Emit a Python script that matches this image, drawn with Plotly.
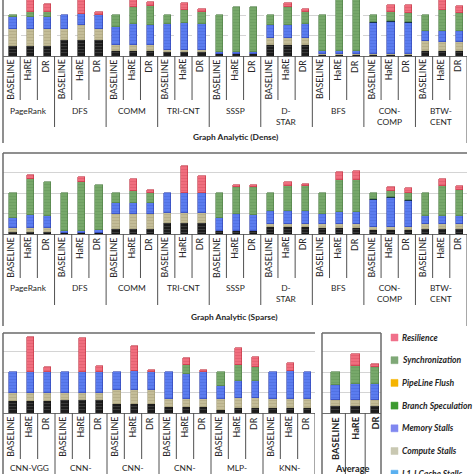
import plotly.graph_objects as go

W = H = 474

# ---------------- data ----------------
series_names = ["Resilience", "Synchronization", "PipeLine Flush", "Branch Speculation",
                "Memory Stalls", "Compute Stalls", "L1-I Cache Stalls"]
legend_colors = ["#f0708a", "#7fa877", "#f5b400", "#3c9a30", "#8088f0", "#c9c8b2", "#5ab0f0"]

config_labels = ["BASELINE", "HaRE", "DR"]
graph_groups = ["PageRank", "DFS", "COMM", "TRI-CNT", "SSSP", "D-<br>STAR", "BFS",
                "CON-<br>COMP", "BTW-<br>CENT"]
ml_groups = ["CNN-VGG", "CNN-", "CNN-", "CNN-", "MLP-", "KNN-"]
avg_group = "Average"
title_dense = "Graph Analytic (Dense)"
title_sparse = "Graph Analytic (Sparse)"

# Graph analytic (dense): 9 groups x (BASELINE, HaRE, DR)
dense_base = [.24, .24, .24, .39, .39, .39, .13, .13, .13, .10, .10, .10, .04, .04, .04,
              .27, .27, .27, .03, .03, .03, .03, .03, .03, .13, .13, .13]
dense_compute = [.42, .42, .42, .28, .36, .28, .14, .14, .14, .05, .05, .05, .02, .02, .02,
                 .16, .16, .16, .02, .02, .02, .02, .02, .02, .23, .22, .22]
dense_memory = [.28, .30, .30, .33, .28, .33, .43, .51, .49, .63, .65, .63, .04, .04, .04,
                .32, .33, .35, .08, .08, .08, .76, .78, .76, .26, .26, .26]
dense_branch = [0, 0, 0, 0, 0, 0, 0, 0, 0, 0, 0, 0, 0, 0, 0,
                0, 0, 0, 0, 0, 0, .03, .03, .03, 0, 0, 0]
dense_sync = [.05, .12, .12, 0, 0, 0, .30, .42, .46, .22, .32, .30, .90, 1.10, 1.10,
              .25, .43, .30, .87, 1.40, 1.40, .16, .22, .20, .38, .50, .45]
dense_resil = [0, .30, .19, 0, .35, .08, 0, .16, .10, 0, .18, .06, 0, 0, 0,
               0, .11, .06, 0, .10, .10, 0, .16, .20, 0, .32, .16]

# Graph analytic (sparse)
sparse_base = [.06, .06, .06, .02, .02, .02, .13, .13, .13, .28, .28, .28, .07, .07, .07,
               .17, .17, .17, .14, .14, .14, .10, .10, .10, .13, .13, .13]
sparse_compute = [.08, .08, .08, 0, 0, 0, .36, .36, .36, .24, .24, .24, 0, 0, 0,
                  .08, .08, .08, .10, .10, .10, .06, .06, .06, .12, .12, .12]
sparse_memory = [.24, .33, .30, .06, .06, .07, .26, .26, .26, .48, .48, .48, .32, .41, .40,
                 .32, .32, .32, .24, .30, .30, .68, .72, .65, .20, .20, .20]
sparse_branch = [0, 0, 0, 0, 0, 0, 0, 0, 0, 0, 0, 0, 0, 0, 0,
                 0, 0, 0, 0, 0, 0, .02, .02, .02, 0, 0, 0]
sparse_sync = [.62, .87, .84, .92, 1.18, 1.11, .25, .31, .25, 0, 0, 0, .61, .67, .67,
               .43, .61, .60, .52, .77, .77, .14, .15, .17, .55, .73, .62]
sparse_resil = [0, .11, 0, 0, .12, 0, 0, .28, .07, 0, .66, .42, 0, .05, .05,
                0, .10, .04, 0, .20, .22, 0, .10, .12, 0, .16, .10]

# Machine learning workloads
ml_base = [.30, .30, .30, .31, .31, .31, .23, .23, .23, .14, .14, .14, .08, .13, .13, .12, .12, .12]
ml_compute = [.20, .19, .20, .17, .18, .18, .34, .34, .34, .19, .19, .19, .26, .24, .24, .22, .22, .22]
ml_memory = [.50, .51, .50, .52, .51, .51, .43, .45, .43, .67, .63, .67, .32, .41, .41, .66, .68, .66]
ml_branch = [0] * 18
ml_sync = [0, 0, 0, 0, 0, 0, 0, 0, 0, 0, .22, 0, .34, .40, .33, 0, 0, 0]
ml_resil = [0, .86, .13, 0, .82, .15, 0, .62, .06, 0, .16, .06, 0, .40, .26, 0, .20, 0]

# Average
avg_base = [.16, .16, .16]
avg_compute = [.16, .16, .16]
avg_memory = [.37, .38, .38]
avg_branch = [0, 0, 0]
avg_sync = [.31, .44, .42]
avg_resil = [0, .30, .08]

# ---------------- styling ----------------
seg_colors = ["#1c1c1c", "#c4bd98", "#5b7cef", "#1f4a66", "#77a86a", "#f06e7e"]
seg_lines = ["#111111", "#a39c78", "#2d3fae", "#10283a", "#4f7d45", "#c0303f"]
seg_pattern = ["#5a5a5a", "#aaa27c", "#4a68d8", "#1f4a66", "#66965a", "#d85566"]
FONT = "Lato, Roboto, Liberation Sans, sans-serif"
TXT = "#262626"
SEP = "#505050"


def X(p):
    return p / W


def Y(p):
    return 1 - p / H


fig = go.Figure()

panels = [
    dict(xa="x", ya="y", segs=[dense_base, dense_compute, dense_memory, dense_branch, dense_sync, dense_resil],
         xd=(3, 467), yd=(56, 0), rng=None, bw=0.42, off=0.08, grid=[0.5, 1.0], dash="dash"),
    dict(xa="x2", ya="y2", segs=[sparse_base, sparse_compute, sparse_memory, sparse_branch, sparse_sync, sparse_resil],
         xd=(3, 467), yd=(234, 153), rng=None, bw=0.42, off=0.08, grid=[0.5, 1.0, 1.5], dash="solid"),
    dict(xa="x3", ya="y3", segs=[ml_base, ml_compute, ml_memory, ml_branch, ml_sync, ml_resil],
         xd=(3, 315), yd=(413, 333), rng=None, bw=0.42, off=0.08, grid=[0.5, 1.0, 1.5], dash="solid"),
    dict(xa="x4", ya="y4", segs=[avg_base, avg_compute, avg_memory, avg_branch, avg_sync, avg_resil],
         xd=(322, 381), yd=(413, 333), rng=(-0.68, 2.30), bw=0.43, off=0.0, grid=[0.5, 1.0, 1.5], dash="solid"),
]

PX_PER_UNIT = 41.0
layout_axes = {}
for k, p in enumerate(panels):
    n = len(p["segs"][0])
    xs = list(range(n))
    for s, vals in enumerate(p["segs"]):
        yv = [v if v > 0 else None for v in vals]
        fig.add_trace(go.Bar(
            x=xs, y=yv, xaxis=p["xa"], yaxis=p["ya"],
            width=p["bw"], offset=-p["bw"] / 2 + p["off"],
            marker=dict(color=seg_colors[s], line=dict(color=seg_lines[s], width=0.6),
                        pattern=dict(shape="-", fgcolor=seg_pattern[s], size=3, solidity=0.35)),
            showlegend=False, hoverinfo="skip"))
    suffix = "" if k == 0 else str(k + 1)
    rng = p["rng"] if p["rng"] else (-0.5, n - 0.5)
    base_py, top_py = p["yd"]
    ytop = (base_py - top_py) / PX_PER_UNIT
    layout_axes["xaxis" + suffix] = dict(
        domain=[X(p["xd"][0]), X(p["xd"][1])], range=list(rng), anchor=p["ya"],
        showgrid=False, zeroline=False, showticklabels=False, ticks="",
        showline=True, linecolor="#6e6e6e", linewidth=1, fixedrange=True)
    layout_axes["yaxis" + suffix] = dict(
        domain=[Y(base_py), Y(top_py)], range=[0, ytop], anchor=p["xa"],
        showgrid=True, gridcolor="#d4d4d4", gridwidth=1, griddash=p["dash"],
        tickvals=p["grid"], showticklabels=False, ticks="", zeroline=False,
        showline=False, fixedrange=True)

fig.update_layout(**layout_axes)

shapes = []
annotations = []


def vline(xref, x, y0, y1, color=SEP, width=1):
    shapes.append(dict(type="line", xref=xref, yref="paper", x0=x, x1=x,
                       y0=Y(y0), y1=Y(y1), line=dict(color=color, width=width)))


def hline_px(x0, x1, y, color="#6a6a6a", width=1.5):
    shapes.append(dict(type="line", xref="paper", yref="paper", x0=X(x0), x1=X(x1),
                       y0=Y(y), y1=Y(y), line=dict(color=color, width=width)))


def vline_px(x, y0, y1, color="#6a6a6a", width=1.5):
    shapes.append(dict(type="line", xref="paper", yref="paper", x0=X(x), x1=X(x),
                       y0=Y(y0), y1=Y(y1), line=dict(color=color, width=width)))


def label_block(xref, groups, base_py, sep_end, grp_end, grp_text_py, last_end,
                rot_size=8.8, grp_size=8.4):
    ngroups = len(groups)
    for g in range(ngroups):
        for j, lab in enumerate(config_labels):
            i = 3 * g + j
            annotations.append(dict(
                xref=xref, yref="paper", x=i - 0.08, y=Y(base_py + 1.5),
                text=lab, textangle=-90,
                xanchor="center", yanchor="top", showarrow=False,
                font=dict(family=FONT, size=rot_size, color=TXT)))
        vline(xref, 3 * g + 0.5, base_py, sep_end)
        vline(xref, 3 * g + 1.5, base_py, sep_end)
        if g > 0:
            vline(xref, 3 * g - 0.5, base_py, grp_end)
        annotations.append(dict(
            xref=xref, yref="paper", x=3 * g + 1, y=Y(grp_text_py),
            text=groups[g], xanchor="center", yanchor="top", showarrow=False,
            font=dict(family=FONT, size=grp_size, color=TXT)))
    vline(xref, 3 * ngroups - 0.5, base_py, last_end)


# Dense panel
label_block("x", graph_groups, 56, 100, 127, 104, 143)
vline_px(3, 0, 143)
annotations.append(dict(xref="paper", yref="paper", x=X(235), y=Y(137), text="<b>%s</b>" % title_dense,
                        xanchor="center", yanchor="middle", showarrow=False,
                        font=dict(family=FONT, size=8.4, color=TXT)))

# Sparse panel
label_block("x2", graph_groups, 234, 278, 305, 281, 326)
hline_px(3, 467, 153)
vline_px(3, 153, 326)
annotations.append(dict(xref="paper", yref="paper", x=X(234), y=Y(317), text="<b>%s</b>" % title_sparse,
                        xanchor="center", yanchor="middle", showarrow=False,
                        font=dict(family=FONT, size=8.4, color=TXT)))

# ML panel
label_block("x3", ml_groups, 413, 459, 474, 461, 474)
hline_px(3, 315, 333)
vline_px(3, 333, 474)

# Average panel
for j, lab in enumerate(config_labels):
    annotations.append(dict(
        xref="x4", yref="paper", x=j, y=Y(415), text="<b>%s</b>" % lab, textangle=-90,
        xanchor="center", yanchor="top", showarrow=False,
        font=dict(family=FONT, size=9.2, color=TXT)))
vline("x4", 0.5, 413, 474)
vline("x4", 1.5, 413, 474)
hline_px(322, 381, 333)
vline_px(322, 333, 474)
vline_px(381, 333, 474)
annotations.append(dict(xref="paper", yref="paper", x=X(352), y=Y(461), text="<b>%s</b>" % avg_group,
                        xanchor="center", yanchor="top", showarrow=False,
                        font=dict(family=FONT, size=9.2, color=TXT)))

# Legend (drawn manually)
for k, (name, col) in enumerate(zip(series_names, legend_colors)):
    cy = 337.5 + 22.7 * k
    shapes.append(dict(type="rect", xref="paper", yref="paper",
                       x0=X(391), x1=X(398), y0=Y(cy + 3.5), y1=Y(cy - 3.5),
                       fillcolor=col, line=dict(color=col, width=0.5)))
    annotations.append(dict(xref="paper", yref="paper", x=X(400), y=Y(cy), text="<b><i>%s</i></b>" % name,
                            xanchor="left", yanchor="middle", showarrow=False,
                            font=dict(family=FONT, size=8.6, color=TXT)))

fig.update_layout(
    width=W, height=H, margin=dict(l=0, r=0, t=0, b=0),
    paper_bgcolor="white", plot_bgcolor="white",
    barmode="stack", bargap=0, showlegend=False,
    shapes=shapes, annotations=annotations,
)

fig.write_html("out.html")
